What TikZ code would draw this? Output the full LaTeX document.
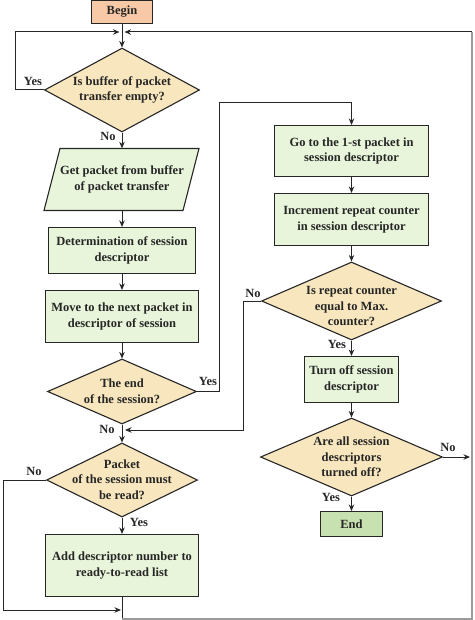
\documentclass[tikz,border=0pt]{standalone}
\usepackage{fontspec}
\setmainfont{Liberation Serif}
\usetikzlibrary{shapes.geometric,arrows.meta,calc}
\definecolor{lgreen}{HTML}{E8F5DA}
\definecolor{ltan}{HTML}{F8E7BE}
\definecolor{beginC}{HTML}{F7C9A7}
\definecolor{endC}{HTML}{C8E1B1}
\definecolor{lineC}{HTML}{262626}
\definecolor{greyC}{HTML}{9A9A9A}
\tikzset{
  base/.style={draw=lineC, line width=1.1pt, inner sep=0pt, align=center,
    font=\bfseries\fontsize{12.5}{15.5}\selectfont, text=lineC},
  proc/.style={base, rectangle, fill=lgreen},
  dec/.style={base, diamond, fill=ltan},
  txt/.style={inner sep=0pt, align=center, font=\bfseries\fontsize{12.5}{15.5}\selectfont, text=lineC},
  lbl/.style={inner sep=0pt, font=\bfseries\fontsize{12.5}{13}\selectfont, text=lineC},
  conn/.style={draw=lineC, line width=1pt},
  arr/.style={conn, -{Stealth[length=6.5pt,width=5.5pt]}},
  greyline/.style={draw=greyC, line width=1.6pt}
}
\begin{document}
\begin{tikzpicture}[x=1pt,y=-1pt]
\useasboundingbox (0,0) rectangle (474,620);
% left column
\node[base, rectangle, fill=beginC, minimum width=61, minimum height=23] (begin) at (122,12) {Begin};
\node[dec, minimum width=155, minimum height=84] (d1) at (122,90) {};
\node[txt] (t1) at (122,90) {Is buffer of packet\\transfer empty?};
\fill[lgreen] (60,148.5) -- (199,148.5) -- (183,210.5) -- (44,210.5) -- cycle;
\draw[draw=lineC, line width=1.1pt] (60,148.5) -- (199,148.5) -- (183,210.5) -- (44,210.5) -- cycle;
\node[txt, minimum width=139, minimum height=62] (p) at (122,179.5) {Get packet from buffer\\of packet transfer};
\node[proc, minimum width=147, minimum height=46] (det) at (122,250.5) {Determination of session\\descriptor};
\node[proc, minimum width=153, minimum height=52] (mov) at (122,316.5) {Move to the next packet in\\descriptor of session};
\node[dec, minimum width=149, minimum height=65] (d2) at (122,391.5) {};
\node[txt] (t2) at (122,391) {The end\\of the session?};
\node[dec, minimum width=151, minimum height=74] (d5) at (122,480) {};
\node[txt] (t5) at (122,479.5) {Packet\\of the session must\\be read?};
\node[proc, minimum width=153, minimum height=62] (add) at (122,565.5) {Add descriptor number to\\ready-to-read list};
% right column
\node[proc, minimum width=154, minimum height=51] (go) at (351.5,151) {Go to the 1-st packet in\\session descriptor};
\node[proc, minimum width=154, minimum height=52] (inc) at (351.5,219.5) {Increment repeat counter\\in session descriptor};
\node[dec, minimum width=180, minimum height=78] (d3) at (351.5,301) {};
\node[txt] (t3) at (351.5,306) {Is repeat counter\\equal to Max.\\counter?};
\node[proc, minimum width=94, minimum height=46] (off) at (351.5,379.5) {Turn off session\\descriptor};
\node[dec, minimum width=182, minimum height=78] (d4) at (351.5,457) {};
\node[txt] (t4) at (351.5,457) {Are all session\\descriptors\\turned off?};
\node[base, rectangle, fill=endC, minimum width=62, minimum height=25] (end) at (351.5,524) {End};
% junction coordinates
\coordinate (jL) at (119.5,32);
\coordinate (jR) at (124.5,32);
\coordinate (jM) at (125,430);
\coordinate (jB) at (121,610);
\coordinate (bl) at (122,619);
\coordinate (br) at (472,619);
\coordinate (tr) at (472,32);
\coordinate (rr) at (470,457);
% main flow
\draw[arr] (begin) -- (d1);
\draw[arr] (d1) -- (p);
\draw[arr] (p) -- (det);
\draw[arr] (det) -- (mov);
\draw[arr] (mov) -- (d2);
\draw[arr] (d2) -- (d5);
\draw[arr] (d5) -- (add);
\draw[arr] (go) -- (inc);
\draw[arr] (inc) -- (d3);
\draw[arr] (d3) -- (off);
\draw[arr] (off) -- (d4);
\draw[arr] (d4) -- (end);
% loops
\draw[arr] (d1.west) -- (15,90) -- (15,32) -- (jL);
\draw[conn] (add.south) -- (bl);
\draw[greyline] (bl) -- (br) -- (tr);
\draw[arr] (tr) -- (jR);
\draw[arr] (d2.east) -- (219,391.5) -- (219,103) -- (351.5,103) -- (go.north);
\draw[arr] (d3.west) -- (243,301) -- (243,430) -- (jM);
\draw[arr] (d4.east) -- (rr);
\draw[arr] (d5.west) -- (3,480) -- (3,610) -- (jB);
% labels
\node[lbl] (y1) at (33,81) {Yes};
\node[lbl] (n1) at (108,136) {No};
\node[lbl] (y2) at (208,381) {Yes};
\node[lbl] (n2) at (107,429) {No};
\node[lbl] (n5) at (34,471) {No};
\node[lbl] (y5) at (139,522) {Yes};
\node[lbl] (n3) at (253,293) {No};
\node[lbl] (y3) at (337,344) {Yes};
\node[lbl] (n4) at (448,447) {No};
\node[lbl] (y4) at (331,497) {Yes};
\end{tikzpicture}
\end{document}
